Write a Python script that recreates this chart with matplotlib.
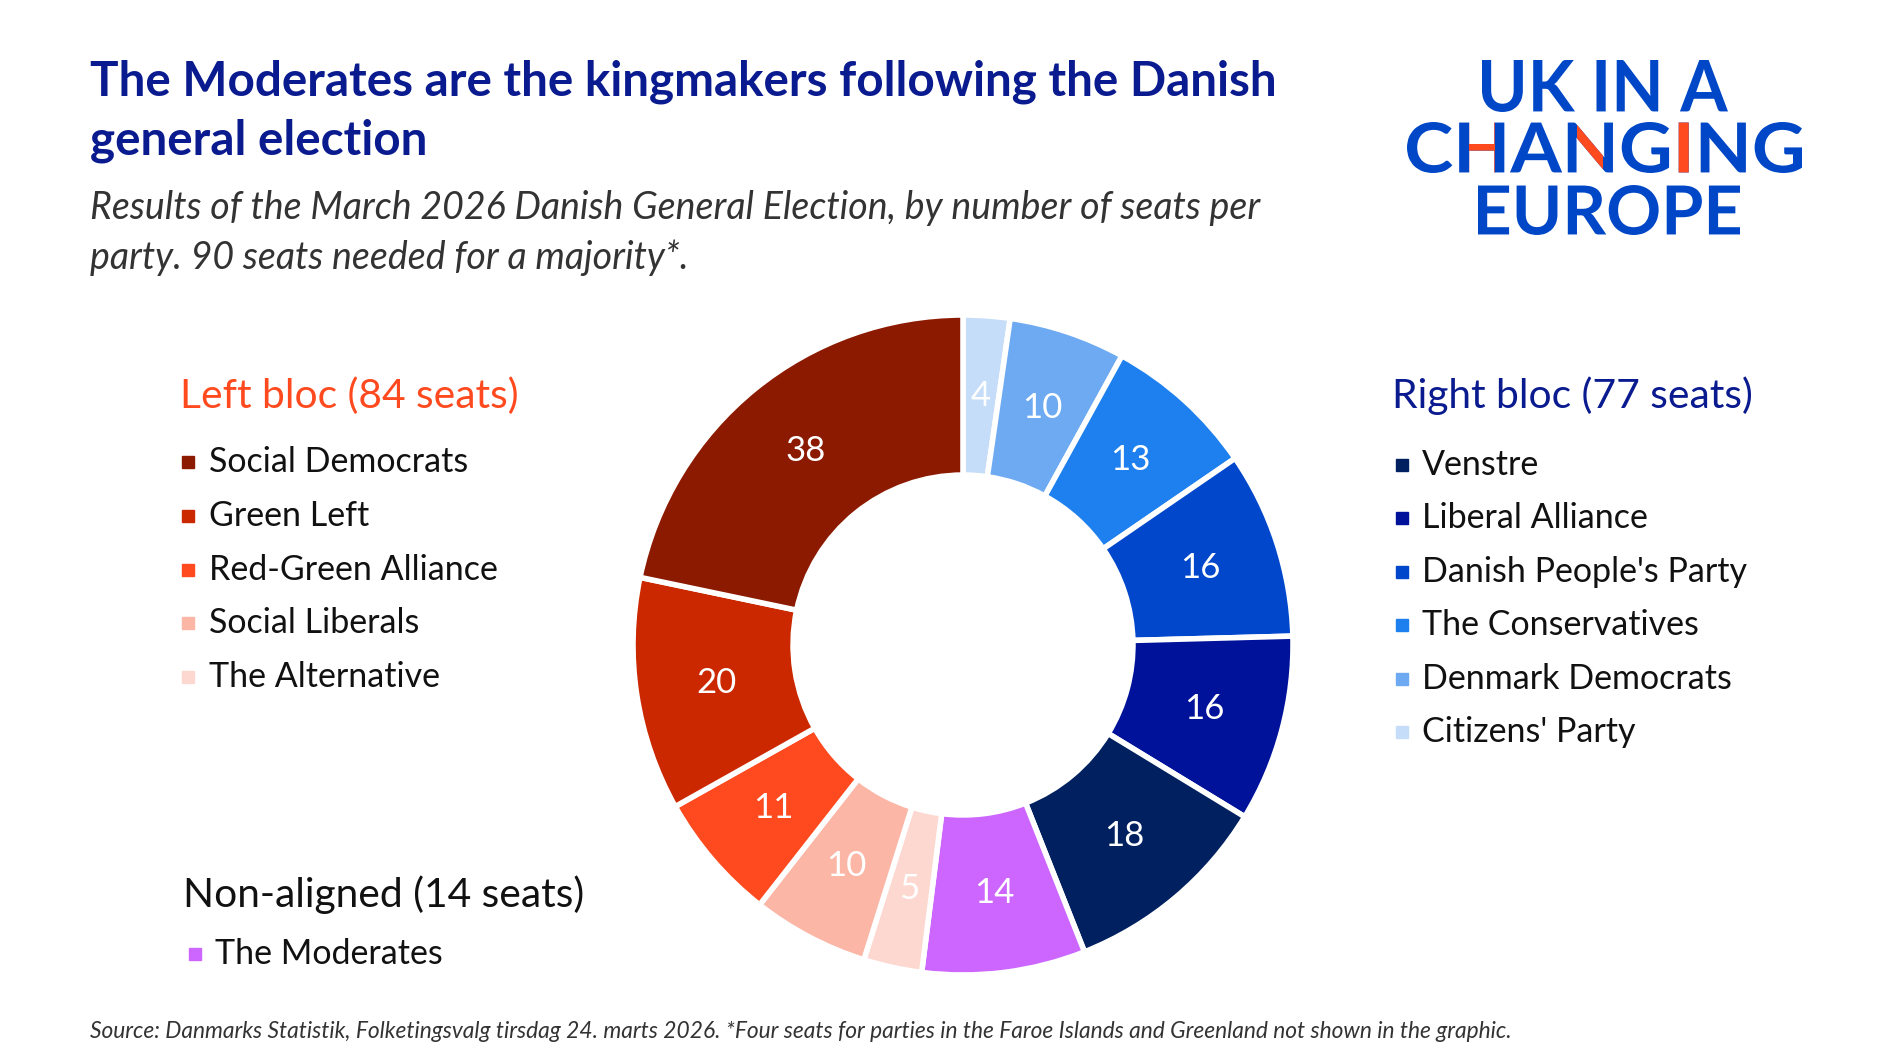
import matplotlib
matplotlib.use('Agg')
import matplotlib.pyplot as plt
from matplotlib.textpath import TextPath
from matplotlib.patches import PathPatch, Rectangle
from matplotlib.font_manager import FontProperties
from matplotlib.transforms import Affine2D

plt.rcParams['font.family'] = ['Lato', 'DejaVu Sans']

# pie order, clockwise from 12 o'clock
parties = ["Citizens' Party", 'Denmark Democrats', 'The Conservatives', "Danish People's Party",
           'Liberal Alliance', 'Venstre', 'The Moderates', 'The Alternative', 'Social Liberals',
           'Red-Green Alliance', 'Green Left', 'Social Democrats']
seats = [4, 10, 13, 16, 16, 18, 14, 5, 10, 11, 20, 38]
colors = ['#C5DDF8', '#6DAAF2', '#1E80EE', '#0047CC', '#00129A', '#00205F',
          '#CC66FF', '#FDD8D0', '#FBB6A6', '#FF4A1F', '#CC2800', '#8B1A00']

left_bloc = ['Social Democrats', 'Green Left', 'Red-Green Alliance', 'Social Liberals', 'The Alternative']
right_bloc = ['Venstre', 'Liberal Alliance', "Danish People's Party", 'The Conservatives',
              'Denmark Democrats', "Citizens' Party"]
non_aligned = ['The Moderates']

W, H = 1890, 1063
fig = plt.figure(figsize=(W / 100, H / 100), dpi=100)
fig.patch.set_facecolor('white')

# donut
cx, cy, r = 963, 645, 330
ax = fig.add_axes([(cx - r) / W, (H - cy - r) / H, 2 * r / W, 2 * r / H])
total = sum(seats)
wedges, _, autotexts = ax.pie(seats, colors=colors, startangle=90, counterclock=False,
                              radius=1, pctdistance=0.757,
                              autopct=lambda p: '%d' % round(p * total / 100),
                              wedgeprops=dict(width=0.485, edgecolor='white', linewidth=4))
for t in autotexts:
    t.set_color('white')
    t.set_fontsize(25)
ax.set_xlim(-1, 1)
ax.set_ylim(-1, 1)
ax.set_aspect('equal')
ax.axis('off')

# overlay in pixel coords (y from top)
lax = fig.add_axes([0, 0, 1, 1], zorder=-1)
lax.set_xlim(0, W)
lax.set_ylim(H, 0)
lax.axis('off')
lax.patch.set_alpha(0)

navy = '#0A1A8F'
lax.text(90, 82, 'The Moderates are the kingmakers following the Danish', color=navy,
         fontsize=34.3, fontweight='bold', va='center')
lax.text(90, 141, 'general election', color=navy, fontsize=34.3, fontweight='bold', va='center')
lax.text(90, 208, 'Results of the March 2026 Danish General Election, by number of seats per',
         color='#333333', fontsize=27, style='italic', va='center')
lax.text(90, 258, 'party. 90 seats needed for a majority*.', color='#333333', fontsize=27,
         style='italic', va='center')

def legend_block(x_sq, x_txt, y0, dy, names, title, tcol, tx, ty):
    lax.text(tx, ty, title, color=tcol, fontsize=29.3, va='center')
    for i, n in enumerate(names):
        y = y0 + i * dy
        c = colors[parties.index(n)]
        lax.add_patch(Rectangle((x_sq - 6, y - 6), 12, 12, color=c))
        lax.text(x_txt, y, n, color='#111111', fontsize=24.5, va='center')

legend_block(188, 209, 462, 53.8, left_bloc, 'Left bloc (84 seats)', '#FF4A1F', 180, 396)
legend_block(1402, 1422, 465, 53.4, right_bloc, 'Right bloc (77 seats)', navy, 1392, 396)
legend_block(195, 215, 954, 50, non_aligned, 'Non-aligned (14 seats)', '#111111', 183, 895)

lax.text(90, 1032, 'Source: Danmarks Statistik, Folketingsvalg tirsdag 24. marts 2026. '
         '*Four seats for parties in the Faroe Islands and Greenland not shown in the graphic.',
         color='#333333', fontsize=16.4, style='italic', va='center')

# logo
gax = fig.add_axes([0, 0, 1, 1])
gax.set_xlim(0, W)
gax.set_ylim(0, H)
gax.axis('off')
gax.patch.set_alpha(0)
lprop = FontProperties(family='Lato', weight='bold')
blue, orange = '#0047C8', '#FF4A1F'

def logo_word(s, x0, x1, ytop, ybot, orange_parts=()):
    tp = TextPath((0, 0), s, size=100, prop=lprop)
    bb = tp.get_extents()
    sx = (x1 - x0) / bb.width
    sy = (ybot - ytop) / bb.height
    tr = Affine2D().translate(-bb.x0, -bb.y0).scale(sx, sy).translate(x0, H - ybot)
    path = tr.transform_path(tp)
    gax.add_patch(PathPatch(path, fc=blue, ec='none'))
    sw = TextPath((0, 0), 'I', size=100, prop=lprop).get_extents().width
    for i, kind in orange_parts:
        right = TextPath((0, 0), s[:i + 1], size=100, prop=lprop).get_extents().x1
        gw = TextPath((0, 0), s[i], size=100, prop=lprop).get_extents().width
        left = right - gw
        X = lambda v: (v - bb.x0) * sx + x0
        if kind == 'all':
            a, b = X(left) - 1, X(right) + 1
        else:
            a, b = X(left + sw * 0.95), X(right - sw * 0.95)
        clip = Rectangle((a, H - ybot - 2), b - a, ybot - ytop + 4, transform=gax.transData)
        p = PathPatch(path, fc=orange, ec='none')
        gax.add_patch(p)
        p.set_clip_path(clip)

logo_word('UK IN A', 1482, 1728, 60, 112)
logo_word('CHANGING', 1407, 1802, 122, 173, orange_parts=[(1, 'mid'), (3, 'mid'), (5, 'all')])
logo_word('EUROPE', 1478, 1740, 185, 235)

fig.savefig('out.png', dpi=100, facecolor='white')
